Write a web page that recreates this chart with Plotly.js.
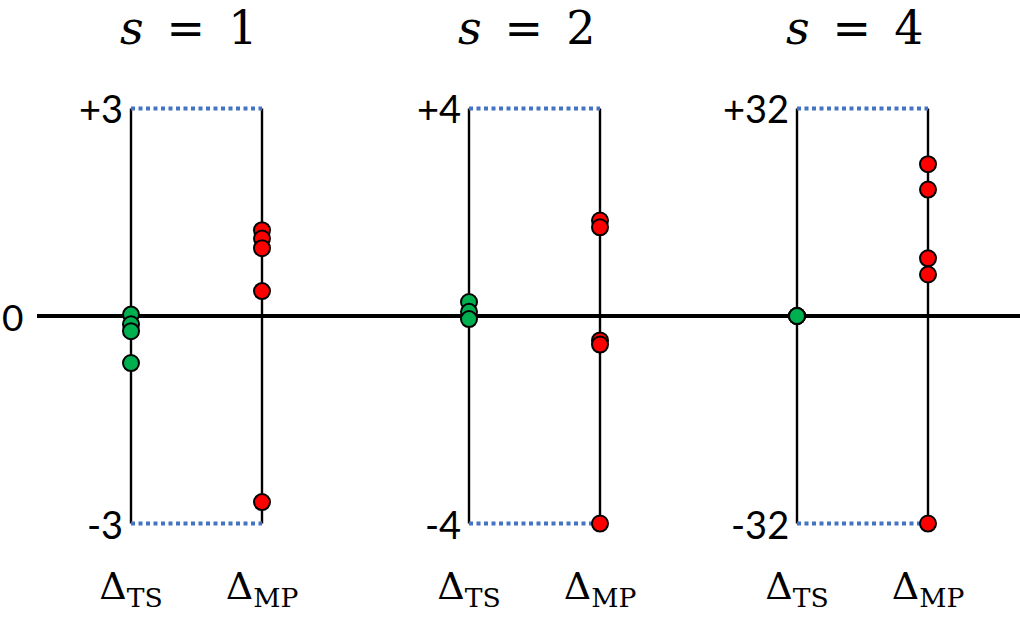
<!DOCTYPE html>
<html>
<head>
<meta charset="utf-8">
<script src="https://cdn.plot.ly/plotly-3.0.1.min.js"></script>
<style>
  html, body { margin: 0; padding: 0; background: #fff; }
  #chart { width: 1020px; height: 620px; }
</style>
</head>
<body>
<div id="chart"></div>
<script>
// ---- data ----
const sValues = [1, 2, 4];
const limits = [3, 4, 32];
const columnLabels = ["\u0394<sub>TS</sub>", "\u0394<sub>MP</sub>"];
const tsValues = [
    [0.02, -0.12, -0.22, -0.68],
    [0.27, 0.08, -0.06],
    [0, 0, 0, 0]
];
const mpValues = [
    [1.24, 1.12, 0.98, 0.36, -2.69],
    [1.84, 1.71, -0.47, -0.55, -4],
    [23.4, 19.5, 8.9, 6.4, -32]
];

// ---- layout helpers ----
const W = 1020, H = 620;
const topPx = 108, botPx = 524;     // where +limit / -limit sit
const tsPx = [131, 469, 797];       // TS column of each panel
const colGap = 131;                 // TS -> MP distance
const yPad = 0.06;
const extra = yPad * (botPx - topPx) / 2;

const serif = "'DejaVu Serif', 'Liberation Serif', serif";
const sans = "Lato, 'Open Sans', sans-serif";
const green = "#00B050", red = "#FF0000", blue = "#4472C4";

const traces = [];
const annotations = [];
const layout = {
    width: W, height: H,
    margin: { l: 0, r: 0, t: topPx - extra, b: H - botPx - extra, pad: 0 },
    paper_bgcolor: "#fff", plot_bgcolor: "#fff",
    showlegend: false,
    hovermode: false,
    shapes: [{
        type: "line", layer: "below",
        xref: "paper", x0: 37 / W, x1: 1,
        yref: "y", y0: 0, y1: 0,
        line: { color: "#000", width: 3.8 }
    }],
    annotations: annotations
};

annotations.push({
    xref: "paper", x: 0, xanchor: "left",
    yref: "y", y: 0, yanchor: "middle",
    text: "0", showarrow: false,
    font: { family: sans, size: 37, color: "#000" }
});

sValues.forEach((s, i) => {
    const n = i === 0 ? "" : String(i + 1);
    const xa = "x" + n, ya = "y" + n;
    const m = limits[i];

    const left = (tsPx[i] - colGap / 2) / W;
    const right = (tsPx[i] + colGap * 1.5) / W;

    layout["xaxis" + n] = {
        domain: [left, right],
        range: [-0.5, 1.5],
        anchor: ya,
        showgrid: false, zeroline: false, showline: false,
        ticks: "",
        tickvals: [0, 1],
        ticktext: columnLabels,
        ticklabelstandoff: 24,
        tickfont: { family: serif, size: 38, color: "#000" },
        fixedrange: true
    };
    layout["yaxis" + n] = {
        domain: [0, 1],
        anchor: xa,
        range: [-m * (1 + yPad), m * (1 + yPad)],
        visible: false,
        fixedrange: true
    };

    // vertical columns
    [0, 1].forEach(c => {
        traces.push({
            x: [c, c], y: [-m, m], xaxis: xa, yaxis: ya,
            mode: "lines", line: { color: "#000", width: 2.4 }
        });
    });
    // dotted limits
    [m, -m].forEach(v => {
        traces.push({
            x: [0, 1], y: [v, v], xaxis: xa, yaxis: ya,
            mode: "lines", line: { color: blue, width: 4, dash: "4px,3.5px" }
        });
    });
    // points
    traces.push({
        x: tsValues[i].map(() => 0), y: tsValues[i], xaxis: xa, yaxis: ya,
        mode: "markers", cliponaxis: false,
        marker: { size: 16, color: green, line: { color: "#000", width: 2 } }
    });
    traces.push({
        x: mpValues[i].map(() => 1), y: mpValues[i], xaxis: xa, yaxis: ya,
        mode: "markers", cliponaxis: false,
        marker: { size: 16, color: red, line: { color: "#000", width: 2 } }
    });

    // limit labels
    [["+" + m, m], ["-" + m, -m]].forEach(([t, v]) => {
        annotations.push({
            xref: xa, x: 0, xanchor: "right", xshift: -6,
            yref: ya, y: v, yanchor: "middle",
            text: t, showarrow: false,
            font: { family: sans, size: 38, color: "#000" }
        });
    });

    // panel title
    annotations.push({
        xref: xa, x: 0.5, xanchor: "center", xshift: -8,
        yref: "paper", y: 1, yanchor: "middle", yshift: topPx - extra - 28,
        text: "<i>s</i>\u2002=\u20021".replace("1", s),
        showarrow: false,
        font: { family: serif, size: 46, color: "#000" }
    });
});

Plotly.newPlot("chart", traces, layout, { staticPlot: true, displayModeBar: false });
</script>
</body>
</html>
